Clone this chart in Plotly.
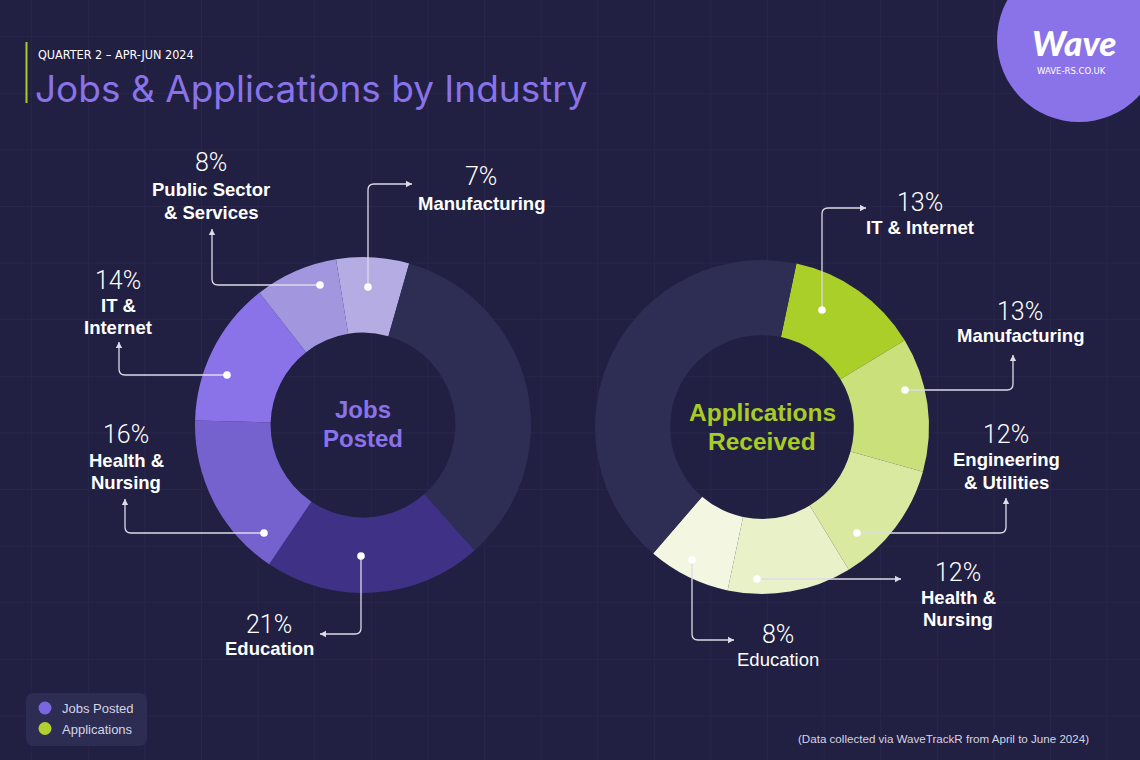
import plotly.graph_objects as go

# ---------------- data ----------------
jobs_categories = ["Manufacturing", "Other", "Education", "Health & Nursing", "IT & Internet", "Public Sector & Services"]
jobs_values = [7, 34, 21, 16, 14, 8]

apps_categories = ["IT & Internet", "Manufacturing", "Engineering & Utilities", "Health & Nursing", "Education", "Other"]
apps_values = [13, 13, 12, 12, 8, 42]

legend_labels = ["Jobs Posted", "Applications"]

# ---------------- styling ----------------
BG = "#211f42"
W, H = 1140, 760
jobs_colors = ["#b4ace3", "#2e2d53", "#3f3186", "#7562cf", "#8a73e9", "#a296df"]
apps_colors = ["#abcf29", "#c9e07b", "#d9e9a0", "#e9f1c8", "#f3f6e0", "#2e2d53"]

# label layout: category -> (x, pct_y, [line ys], bold)
jobs_label_pos = {
    "Manufacturing": (481, 176, [203], True),
    "Public Sector & Services": (211, 162, [189, 212], True),
    "IT & Internet": (118, 280, [305, 327], True),
    "Health & Nursing": (126, 434, [460, 482], True),
    "Education": (269, 624, [648], True),
}
jobs_label_lines = {
    "Manufacturing": ["Manufacturing"],
    "Public Sector & Services": ["Public Sector", "& Services"],
    "IT & Internet": ["IT &", "Internet"],
    "Health & Nursing": ["Health &", "Nursing"],
    "Education": ["Education"],
}
apps_label_pos = {
    "IT & Internet": (920, 202, [227], True),
    "Manufacturing": (1020, 311, [335], True),
    "Engineering & Utilities": (1006, 434, [459, 482], True),
    "Health & Nursing": (958, 572, [597, 619], True),
    "Education": (778, 634, [659], False),
}
apps_label_lines = {
    "IT & Internet": ["IT & Internet"],
    "Manufacturing": ["Manufacturing"],
    "Engineering & Utilities": ["Engineering", "& Utilities"],
    "Health & Nursing": ["Health &", "Nursing"],
    "Education": ["Education"],
}

# connector polylines (pixel coords)
connectors = [
    [(368, 287), (368, 184), (412, 184)],
    [(320, 285), (212, 285), (212, 229)],
    [(227, 375), (119, 375), (119, 342)],
    [(264, 533), (125, 533), (125, 499)],
    [(361, 556), (361, 634), (320, 634)],
    [(822, 310), (822, 208), (866, 208)],
    [(905, 390), (1013, 390), (1013, 355)],
    [(857, 533), (1006, 533), (1006, 498)],
    [(757, 579), (901, 579)],
    [(692, 560), (692, 640), (734, 640)],
]


def px(x):
    return x / W


def py(y):
    return 1 - y / H


fig = go.Figure()

# donuts
fig.add_trace(go.Pie(
    labels=jobs_categories, values=jobs_values, sort=False, direction="clockwise",
    rotation=-9.25, hole=0.55, textinfo="none", showlegend=False,
    marker=dict(colors=jobs_colors, line=dict(width=0)),
    domain=dict(x=[px(195), px(531)], y=[py(593), py(257)]),
))
fig.add_trace(go.Pie(
    labels=apps_categories, values=apps_values, sort=False, direction="clockwise",
    rotation=11.9, hole=0.55, textinfo="none", showlegend=False,
    marker=dict(colors=apps_colors, line=dict(width=0)),
    domain=dict(x=[px(595), px(929)], y=[py(594), py(260)]),
))

shapes = []
# background grid
gx = 31.7
while gx < W:
    shapes.append(dict(type="line", xref="x", yref="y", x0=gx, x1=gx, y0=0, y1=H,
                       line=dict(color="#28274b", width=1), layer="below"))
    gx += 56.6
gy = 36.7
while gy < H:
    shapes.append(dict(type="line", xref="x", yref="y", x0=0, x1=W, y0=gy, y1=gy,
                       line=dict(color="#28274b", width=1), layer="below"))
    gy += 56.6

# title accent bar
shapes.append(dict(type="line", xref="x", yref="y", x0=26.5, x1=26.5, y0=42, y1=103,
                   line=dict(color="#a8cc26", width=2)))

# logo circle
shapes.append(dict(type="circle", xref="x", yref="y", x0=997, x1=1161, y0=-42, y1=122,
                   fillcolor="#8a73e8", line=dict(width=0)))

# legend box
def rrect(x0, y0, x1, y1, r):
    return (f"M {x0+r},{y0} L {x1-r},{y0} Q {x1},{y0} {x1},{y0+r} L {x1},{y1-r} "
            f"Q {x1},{y1} {x1-r},{y1} L {x0+r},{y1} Q {x0},{y1} {x0},{y1-r} "
            f"L {x0},{y0+r} Q {x0},{y0} {x0+r},{y0} Z")

shapes.append(dict(type="path", xref="x", yref="y", path=rrect(26, 693, 147, 746, 8),
                   fillcolor="#2d2c53", line=dict(width=0)))


# connectors
def rounded_path(pts, r=6):
    d = f"M {pts[0][0]},{pts[0][1]}"
    for i in range(1, len(pts) - 1):
        (ax, ay), (bx, by), (cx, cy) = pts[i - 1], pts[i], pts[i + 1]
        def unit(dx, dy):
            L = (dx * dx + dy * dy) ** 0.5
            return dx / L, dy / L
        u1 = unit(bx - ax, by - ay)
        u2 = unit(cx - bx, cy - by)
        p1 = (bx - u1[0] * r, by - u1[1] * r)
        p2 = (bx + u2[0] * r, by + u2[1] * r)
        d += f" L {p1[0]},{p1[1]} Q {bx},{by} {p2[0]},{p2[1]}"
    d += f" L {pts[-1][0]},{pts[-1][1]}"
    return d


for pts in connectors:
    shapes.append(dict(type="path", xref="x", yref="y", path=rounded_path(pts),
                       line=dict(color="#dcdbe8", width=1.3)))
    (ax, ay), (bx, by) = pts[-2], pts[-1]
    L = ((bx - ax) ** 2 + (by - ay) ** 2) ** 0.5
    ux, uy = (bx - ax) / L, (by - ay) / L
    nx, ny = -uy, ux
    bl, hw = 6, 3.2
    p1 = (bx - ux * bl + nx * hw, by - uy * bl + ny * hw)
    p2 = (bx - ux * bl - nx * hw, by - uy * bl - ny * hw)
    shapes.append(dict(type="path", xref="x", yref="y",
                       path=f"M {bx},{by} L {p1[0]},{p1[1]} L {p2[0]},{p2[1]} Z",
                       fillcolor="#dcdbe8", line=dict(width=0)))
    x0, y0 = pts[0]
    shapes.append(dict(type="circle", xref="x", yref="y", x0=x0 - 3.8, x1=x0 + 3.8,
                       y0=y0 - 3.8, y1=y0 + 3.8, fillcolor="white", line=dict(width=0)))

# legend markers
shapes.append(dict(type="circle", xref="x", yref="y", x0=38.5, x1=51.5, y0=701.5, y1=714.5,
                   fillcolor="#7a66df", line=dict(width=0)))
shapes.append(dict(type="circle", xref="x", yref="y", x0=38.5, x1=51.5, y0=722, y1=735,
                   fillcolor="#b2d02e", line=dict(width=0)))

fig.update_layout(shapes=shapes)

# invisible trace to anchor axes
fig.add_trace(go.Scatter(x=[0, W], y=[0, H], mode="markers", marker=dict(opacity=0),
                         showlegend=False, hoverinfo="skip"))

ann = []
SANS = "Liberation Sans, Arial, sans-serif"
LIGHT = "Roboto, Liberation Sans, sans-serif"
NARROW = "Liberation Sans Narrow, DejaVu Sans Condensed, sans-serif"


def add_text(x, y, text, size, color="white", bold=False, family=SANS, xanchor="center",
             weight=None, style="normal"):
    w = weight if weight is not None else (700 if bold else 400)
    ann.append(dict(x=x, y=y, xref="x", yref="y", text=text, showarrow=False,
                    xanchor=xanchor, yanchor="middle",
                    font=dict(size=size, color=color, family=family, weight=w, style=style)))


def add_labels(categories, values, pos, lines):
    for cat, val in zip(categories, values):
        if cat not in pos:
            continue
        x, pyy, ys, bold = pos[cat]
        add_text(x, pyy, f"{val}%", 25, family=LIGHT, weight=300)
        for line, yy in zip(lines[cat], ys):
            add_text(x, yy, line.replace("&", "&amp;"), 18.5, bold=bold,
                     weight=700 if bold else 500)


add_labels(jobs_categories, jobs_values, jobs_label_pos, jobs_label_lines)
add_labels(apps_categories, apps_values, apps_label_pos, apps_label_lines)

# centre labels
add_text(363, 409, "Jobs", 24, color="#8a73e8", bold=True)
add_text(363, 438, "Posted", 24, color="#8a73e8", bold=True)
add_text(762, 412, "Applications", 24.5, color="#a8cc26", bold=True)
add_text(762, 441, "Received", 24.5, color="#a8cc26", bold=True)

# titles
add_text(36, 54, "QUARTER 2 – APR-JUN 2024", 12.5, family=NARROW, xanchor="left", weight=500)
add_text(33, 88, "Jobs &amp; Applications by Industry", 37,
         color="#8a73e8", xanchor="left", family="Inter, Liberation Sans, sans-serif", weight=400)

# logo
add_text(1074, 42, "Wave", 35, bold=True, style="italic", family="Lato, Liberation Sans, sans-serif", weight=900)
add_text(1071, 70, "WAVE-RS.CO.UK", 9.5, family=NARROW)

# legend texts
add_text(60, 708, legend_labels[0], 13, color="#d6d5e4", xanchor="left")
add_text(60, 729, legend_labels[1], 13, color="#d6d5e4", xanchor="left")

# footnote
add_text(796, 738, "(Data collected via WaveTrackR from April to June 2024)", 11.6, color="#d6d5e4",
         xanchor="left")

fig.update_layout(
    annotations=ann,
    width=W, height=H,
    margin=dict(l=0, r=0, t=0, b=0),
    paper_bgcolor=BG, plot_bgcolor=BG,
    xaxis=dict(range=[0, W], visible=False, fixedrange=True),
    yaxis=dict(range=[H, 0], visible=False, fixedrange=True),
    showlegend=False,
)

fig.write_html("out.html")
